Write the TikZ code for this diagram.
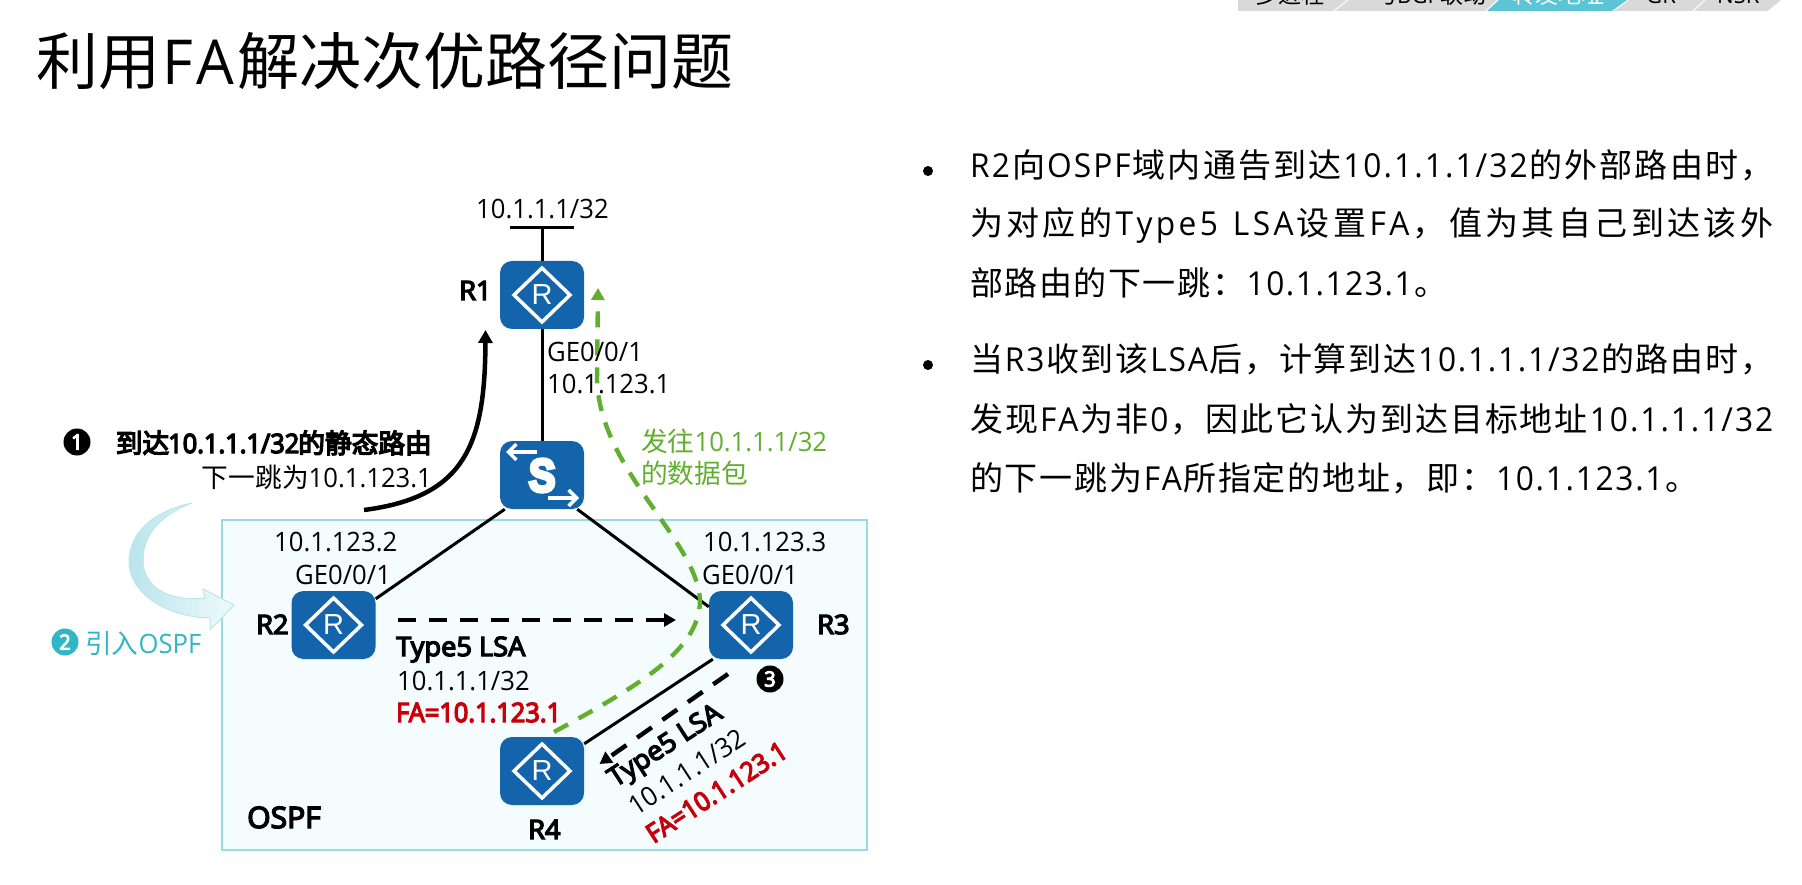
\documentclass[tikz,border=0pt]{standalone}
\usepackage{fontspec}
\usetikzlibrary{arrows.meta,calc}
\newfontfamily\cj{Noto Sans CJK SC}
\newfontfamily\cjb[FakeBold=5]{Noto Sans CJK SC}
\newfontfamily\la[FakeStretch=0.96]{Open Sans}
\newfontfamily\lab[FakeStretch=1.02,FakeBold=5]{Open Sans}
\newfontfamily\labb[FakeStretch=0.95,FakeBold=5]{Open Sans}
\newfontfamily\ar{Liberation Sans}
\newfontfamily\ars[FakeStretch=0.85,FakeBold=12]{Liberation Sans}
\newcommand\fs[1]{\fontsize{#1}{#1}\selectfont}
\makeatletter
\newcommand\spcd[1]{\@tfor\tmpx:=#1\do{\tmpx\hskip 0pt plus 1fil\relax}}
\makeatother
\newcommand\CC[1]{\cj\spcd{#1}}
\newcommand\LL[1]{\la\spcd{#1}}
\definecolor{hwblue}{HTML}{1464AC}
\definecolor{ospfb}{HTML}{99DBE2}
\definecolor{ospff}{HTML}{F5FCFE}
\definecolor{hwred}{HTML}{C7000B}
\definecolor{hwgreen}{HTML}{62AF2F}
\definecolor{hwteal}{HTML}{30B6C6}
\definecolor{tabteal}{HTML}{5BC5D6}
\definecolor{tabgray}{HTML}{D9D9D9}
\definecolor{arrA}{HTML}{B9E5EB}
\definecolor{arrB}{HTML}{EFFAFB}
\definecolor{arrC}{HTML}{BBE6EC}
\tikzset{
  lab/.style={inner sep=0pt,anchor=base west,font=\fs{26.7}\la},
  blab/.style={inner sep=0pt,anchor=base west,font=\fs{26.7}\lab},
  rtext/.style={inner sep=0pt,anchor=base west,font=\fs{33}},
  devbox/.style={fill=hwblue,rounded corners=12pt,minimum width=84pt,minimum height=68pt,inner sep=0pt},
  rmark/.style={text=white,font=\fs{29}\ar},
  conn/.style={line width=3pt,black},
  dashk/.style={line width=4.4pt,black,dash pattern=on 18pt off 13pt,-{Triangle[length=12pt,width=13pt]}},
  dashg/.style={line width=4.4pt,hwgreen,dash pattern=on 16pt off 12pt,-{Triangle[length=12pt,width=13pt]}},
  badge/.style={circle,fill=black,text=white,inner sep=0pt,minimum size=27pt,font=\fs{21}\labb},
  tabtxt/.style={inner sep=0pt,anchor=base west,font=\fs{23}},
  barb/.style={line width=3.5pt,white,-{Straight Barb[length=8pt,width=16pt,line width=3.5pt]}},
  diam/.style={line width=3.5pt,white,line join=miter}
}
\newcommand\rdia[1]{\draw[diam] (#1) ++(-28,0) -- ++(28,-27) -- ++(28,27) -- ++(-28,27) -- cycle;}
\begin{document}
\begin{tikzpicture}[x=1pt,y=-1pt]
\path[use as bounding box] (0,0) rectangle (1802,885);
\clip (0,0) rectangle (1802,885);
\fill[white] (0,0) rectangle (1802,885);
% tabs
\fill[tabgray] (1238,0) -- (1347,0) -- (1333,11) -- (1238,11) -- cycle;
\fill[tabgray] (1349,0) -- (1497,0) -- (1485,11) -- (1335,11) -- cycle;
\fill[tabteal] (1499,0) -- (1627,0) -- (1612,11) -- (1487,11) -- cycle;
\fill[tabgray] (1629,0) -- (1704,0) -- (1692,11) -- (1614,11) -- cycle;
\fill[tabgray] (1706,0) -- (1781,0) -- (1767.5,11) -- (1694,11) -- cycle;
\node[tabtxt] (t1) at (1255,3.5) {\cj 多进程};
\node[tabtxt] (t2) at (1374,3.5) {\cj 与{\la BGP}联动};
\node[tabtxt,text=white] (t3) at (1512,3.5) {\cj 转发地址};
\node[tabtxt] (t4) at (1646,3.5) {\la GR};
\node[tabtxt] (t5) at (1717,3.5) {\la NSR};
% title
\node[inner sep=0pt,anchor=base west,font=\fs{62}] (title) at (36,85) {\cj 利用\hspace{2pt}{\la F\kern4pt A}\hspace{3pt}解决次优路径问题};
% OSPF area
\draw[ospfb,fill=ospff,line width=1.8pt] (222,520) rectangle (867,850);
% curved gradient arrow
\shade[left color=arrA,right color=arrB,draw=arrC,line width=1pt] (192,503)
  .. controls (150,512) and (129,535) .. (129,562)
  .. controls (129,592) and (165,617) .. (210,618)
  -- (210,630) -- (234,605) -- (203,589) -- (205,598)
  .. controls (165,602) and (143,585) .. (143,560)
  .. controls (143,535) and (160,515) .. (192,503) -- cycle;
% devices
\node[devbox] (r1) at (542,295) {};
\node[devbox] (sw) at (542,475) {};
\node[devbox] (r2) at (333.5,625) {};
\node[devbox] (r3) at (751,625) {};
\node[devbox] (r4) at (542,771) {};
\foreach \n in {r1,r2,r3,r4}{\rdia{\n}\node[rmark] (m\n) at (\n) {R};}
\node[text=white,font=\fs{44}\ars] (ms) at (542,475.5) {S};
\coordinate (s1a) at (537,452); \coordinate (s1b) at (506,452);
\coordinate (s2a) at (548,498); \coordinate (s2b) at (579,498);
\draw[barb] (s1a) -- (s1b);
\draw[barb] (s2a) -- (s2b);
% links
\coordinate (bar) at (542,228);
\draw[conn] ([xshift=-32pt]bar) -- ([xshift=32pt]bar);
\draw[conn] (bar) -- (r1);
\draw[conn] (r1) -- (sw);
\draw[conn] ([xshift=5pt]sw.south west) -- ([yshift=-8pt]r2.north east);
\draw[conn] ([xshift=-7pt]sw.south east) -- ([yshift=-16pt]r3.north west);
\draw[conn] ([xshift=4pt]r3.south west) -- ([yshift=-7pt]r4.north east);
% arrows
\coordinate (ka) at (364,510); \coordinate (kb) at (485.5,330);
\draw[line width=4.5pt,-{Triangle[length=13pt,width=14pt]}] (ka) .. controls (465,497) and (485,445) .. (kb);
\coordinate (da) at (398,620); \coordinate (db) at (676,620);
\draw[dashk] (da) -- (db);
\coordinate (dc) at (728,674); \coordinate (dd) at (599.5,764);
\draw[dashk] (dc) -- (dd);
\coordinate (ga) at (554,732); \coordinate (gb) at (700,600); \coordinate (gc) at (597,380); \coordinate (gd) at (598,288);
\draw[dashg] (ga) .. controls (640,685) and (700,650) .. (gb) .. controls (697,540) and (600,470) .. (gc) -- (gd);
% labels
\node[lab] (l1) at (476,219) {10.1.1.1/32};
\node[blab] (lr1) at (459,300) {R1};
\node[lab] (l2) at (547,361) {GE0/0/1};
\node[lab] (l3) at (547,393) {10.1.123.1};
\node[lab,text=hwgreen] (l4) at (641,451) {\cj 发往{\la 10.1.1.1/32}};
\node[lab,text=hwgreen] (l5) at (641,483) {\cj 的数据包};
\node[badge] (b1) at (77,442) {1};
\node[inner sep=0pt,anchor=base east,font=\fs{26.7}] (l6) at (432,453) {\cjb 到达{\labb\kern-1pt 10.1.1.1/32\kern-1pt}的静态路由};
\node[inner sep=0pt,anchor=base east,font=\fs{26.7}] (l7) at (432,487) {\cj 下一跳为{\la 10.1.123.1}};
\node[lab] (l8) at (274,551) {10.1.123.2};
\node[lab] (l9) at (295,584) {GE0/0/1};
\node[lab] (l10) at (703,551) {10.1.123.3};
\node[lab] (l11) at (702,584) {GE0/0/1};
\node[blab] (lr2) at (256,634) {R2};
\node[blab] (lr3) at (817,634) {R3};
\node[blab] (lr4) at (528,839) {R4};
\node[inner sep=0pt,anchor=base west,font=\fs{29.5}\lab] (lo) at (247,828) {OSPF};
\node[blab] (l12) at (396,656) {Type5 LSA};
\node[lab] (l13) at (397,690) {10.1.1.1/32};
\node[lab,text=hwred,font=\fs{26.7}\labb] (l14) at (396,722) {FA=10.1.123.1};
\node[inner sep=0pt,rotate=33,font=\fs{26.7}\lab] (l15) at (666,747) {Type5 LSA};
\node[inner sep=0pt,rotate=33,font=\fs{26.7}\la] (l16) at (687,772) {10.1.1.1/32};
\node[inner sep=0pt,rotate=33,text=hwred,font=\fs{26.2}\labb] (l17) at (716.5,792) {FA=10.1.123.1};
\node[badge] (b3) at (770,679) {3};
\node[badge,fill=hwteal] (b2) at (65,642) {2};
\node[lab,text=hwteal] (l18) at (85,653) {\cj 引入{\la OSPF}};
% right column
\fill (928,171) circle (5pt);
\fill (928,365) circle (5pt);
\node[rtext] (p1) at (970,177.5) {\hbox to 803pt{\LL{R2}\CC{向}\LL{OSPF}\CC{域内通告到达}\LL{10.1.1.1/32}\CC{的外部路由时，}\unskip}};
\node[rtext] (p2) at (970,236) {\hbox to 803pt{\CC{为对应的}\LL{Type5{\ }LSA}\CC{设置}\LL{FA}\CC{，值为其自己到达该外}\unskip}};
\node[rtext] (p3) at (970,295.7) {\hbox to 477pt{\CC{部路由的下一跳：}\LL{10.1.123.1}\CC{。}\unskip}};
\node[rtext] (p4) at (970,371) {\hbox to 803pt{\CC{当}\LL{R3}\CC{收到该}\LL{LSA}\CC{后，计算到达}\LL{10.1.1.1/32}\CC{的路由时，}\unskip}};
\node[rtext] (p5) at (970,431.7) {\hbox to 803pt{\CC{发现}\LL{FA}\CC{为非}\LL{0}\CC{，因此它认为到达目标地址}\LL{10.1.1.1/32}\unskip}};
\node[rtext] (p6) at (970,490.7) {\hbox to 728pt{\CC{的下一跳为}\LL{FA}\CC{所指定的地址，即：}\LL{10.1.123.1}\CC{。}\unskip}};
\end{tikzpicture}
\end{document}
